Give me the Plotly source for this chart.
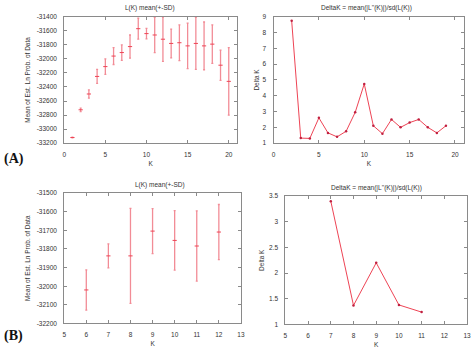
import plotly.graph_objects as go

# Structure-style summary: L(K) mean +- SD and Evanno DeltaK, two runs
k_a = list(range(1, 21))
lk_mean_a = [-33120, -32725, -32500, -32250, -32110, -31960, -31910, -31825, -31570, -31640,
             -31660, -31720, -31780, -31770, -31815, -31780, -31815, -31790, -32090, -32320]
lk_sd_a = [6, 25, 60, 100, 110, 120, 110, 165, 150, 75,
           250, 315, 205, 255, 325, 370, 340, 275, 215, 480]

k_delta_a = list(range(2, 20))
delta_a = [8.75, 1.32, 1.3, 2.6, 1.65, 1.4, 1.75, 2.95, 4.75, 2.1,
           1.6, 2.5, 2.0, 2.3, 2.5, 2.0, 1.65, 2.1]

k_b = list(range(6, 13))
lk_mean_b = [-32020, -31837, -31837, -31704, -31754, -31784, -31709]
lk_sd_b = [108, 64, 255, 121, 160, 189, 148]

k_delta_b = [7, 8, 9, 10, 11]
delta_b = [3.4, 1.37, 2.2, 1.38, 1.24]

ya_ticks = list(range(-33200, -31399, 200))
yb_ticks = list(range(-32200, -31499, 100))
yd_ticks_b = [1, 1.5, 2, 2.5, 3, 3.5]
yd_text_b = ["1", "1.5", "2", "2.5", "3", "3.5"]

W, H = 474, 349
ERR = "#f28c96"
LINE = "#ee4455"
FRAME = "#8a8a8a"
TXT = "#333333"
FONT = "Liberation Sans"


def px(x0, x1):
    return [x0 / W, x1 / W]


def py(top, bottom):
    return [1 - bottom / H, 1 - top / H]


fig = go.Figure()

fig.add_trace(go.Scatter(
    x=k_a, y=lk_mean_a, mode="markers", xaxis="x", yaxis="y",
    marker=dict(symbol="line-ew", size=3, line=dict(color=LINE, width=1)),
    error_y=dict(type="data", array=lk_sd_a, color=ERR, thickness=1.3, width=1),
))
fig.add_trace(go.Scatter(
    x=k_delta_a, y=delta_a, mode="lines+markers", xaxis="x2", yaxis="y2",
    line=dict(color=LINE, width=1), marker=dict(color="#c02040", size=2.5),
))
fig.add_trace(go.Scatter(
    x=k_b, y=lk_mean_b, mode="markers", xaxis="x3", yaxis="y3",
    marker=dict(symbol="line-ew", size=3, line=dict(color=LINE, width=1)),
    error_y=dict(type="data", array=lk_sd_b, color=ERR, thickness=1.3, width=1),
))
fig.add_trace(go.Scatter(
    x=k_delta_b, y=delta_b, mode="lines+markers", xaxis="x4", yaxis="y4",
    line=dict(color=LINE, width=1), marker=dict(color="#c02040", size=2.5),
))

axis_common = dict(
    showline=True, linecolor=FRAME, linewidth=1, mirror="ticks",
    ticks="inside", ticklen=3, tickcolor=FRAME, showgrid=False, zeroline=False,
    tickfont=dict(family=FONT, size=6.5, color=TXT), ticklabelstandoff=5,
    title_font=dict(family=FONT, size=6.5, color=TXT),
)

fig.update_layout(
    width=W, height=H, margin=dict(l=0, r=0, t=0, b=0),
    paper_bgcolor="white", plot_bgcolor="white", showlegend=False,
    xaxis=dict(axis_common, domain=px(63, 238), range=[0, 21], tickvals=[0, 5, 10, 15, 20],
               title=dict(text="K", standoff=4)),
    yaxis=dict(axis_common, domain=py(13, 142), range=[-33200, -31400], tickvals=ya_ticks,
               ticktext=[str(v) for v in ya_ticks],
               title=dict(text="Mean of Est. Ln Prob. of Data", standoff=5)),
    xaxis2=dict(axis_common, domain=px(275, 468), range=[0, 21], tickvals=[0, 5, 10, 15, 20],
                anchor="y2", title=dict(text="K", standoff=4)),
    yaxis2=dict(axis_common, domain=py(13, 142), range=[1, 9], dtick=1, anchor="x2",
                title=dict(text="Delta K", standoff=2)),
    xaxis3=dict(axis_common, domain=px(63, 242), range=[5, 13], dtick=1, anchor="y3",
                title=dict(text="K", standoff=4)),
    yaxis3=dict(axis_common, domain=py(193, 326), range=[-32200, -31500], tickvals=yb_ticks,
                ticktext=[str(v) for v in yb_ticks], anchor="x3",
                title=dict(text="Mean of Est. Ln Prob. of Data", standoff=5)),
    xaxis4=dict(axis_common, domain=px(287, 471), range=[5, 13], dtick=1, anchor="y4",
                title=dict(text="K", standoff=4)),
    yaxis4=dict(axis_common, domain=py(196, 327), range=[1, 3.5], tickvals=yd_ticks_b,
                ticktext=yd_text_b, anchor="x4", title=dict(text="Delta K", standoff=3)),
)

titles = [
    ("L(K) mean(+-SD)", 150, 4),
    ("DeltaK = mean(|L''(K)|)/sd(L(K))", 369, 4),
    ("L(K) mean(+-SD)", 160, 185),
    ("DeltaK = mean(|L''(K)|)/sd(L(K))", 379, 188),
]
for text, xc, yc in titles:
    fig.add_annotation(text=text, x=xc / W, y=1 - yc / H, xref="paper", yref="paper",
                       showarrow=False, xanchor="center", yanchor="middle",
                       font=dict(family=FONT, size=6.5, color=TXT))

for text, yc in [("(A)", 158), ("(B)", 339)]:
    fig.add_annotation(text="<b>" + text + "</b>", x=0, y=1 - yc / H, xref="paper", yref="paper",
                       showarrow=False, xanchor="left", yanchor="middle",
                       font=dict(family="Liberation Serif", size=14, color="#111111"))

fig.write_html("out.html")
